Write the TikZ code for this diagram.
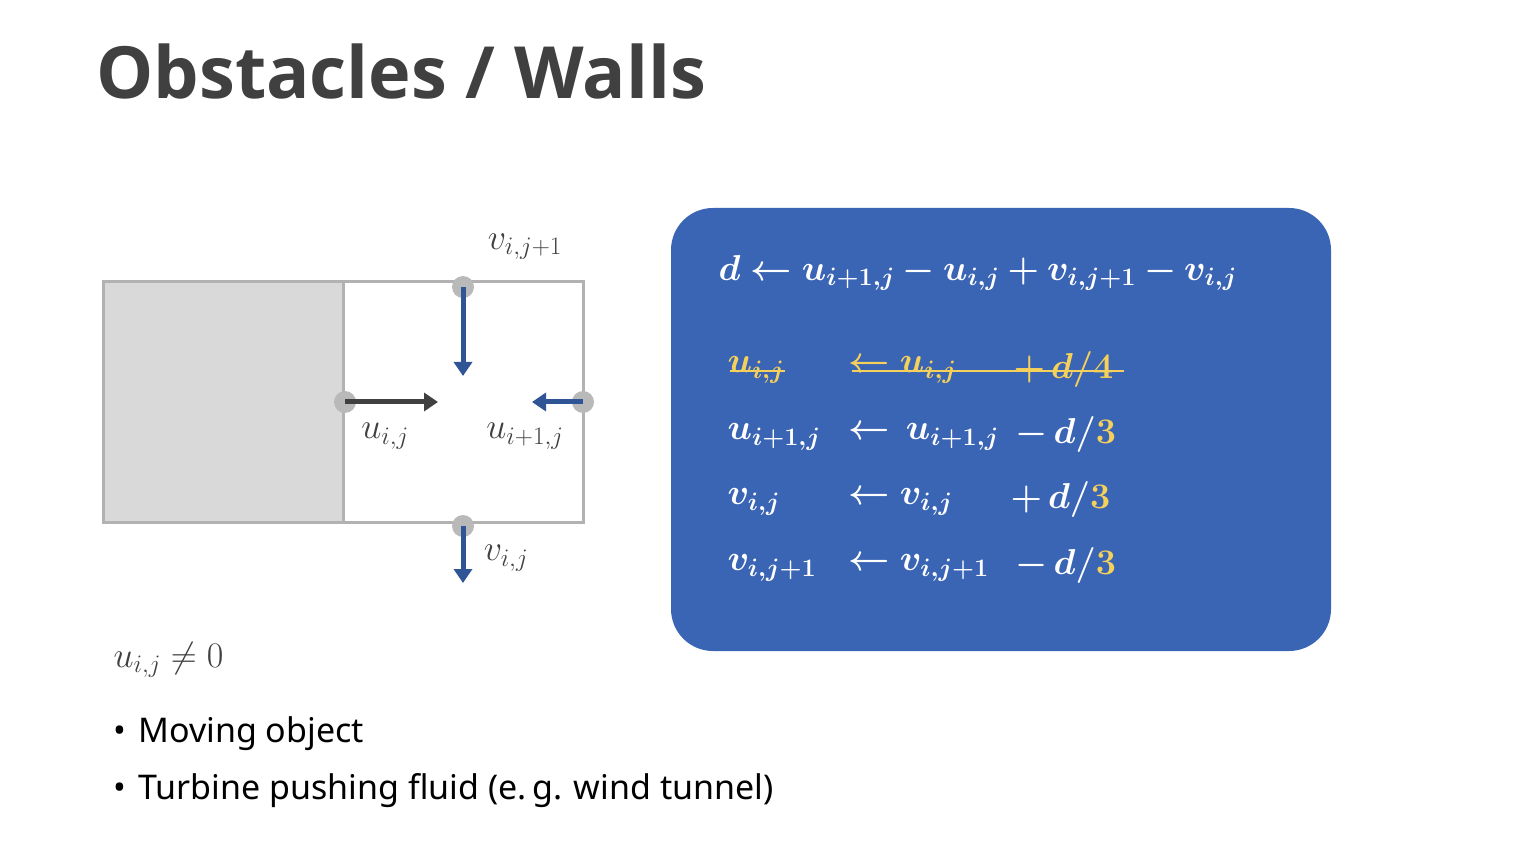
\RequirePackage{fix-cm}
\documentclass[tikz,border=0pt]{standalone}
\usepackage{fontspec}
\usepackage{amsmath,bm}
\usetikzlibrary{arrows.meta}
\setmainfont{Noto Sans}
\newfontfamily\titlefont{Open Sans}
\definecolor{bbox}{HTML}{3A64B4}
\definecolor{arrblue}{HTML}{2F5597}
\definecolor{ylw}{HTML}{F5D05A}
\definecolor{dgray}{HTML}{404040}
\begin{document}
\begin{tikzpicture}[x=1pt,y=-1pt,
  dot/.style={circle,fill=gray!55,inner sep=0pt,minimum size=22pt},
  arr/.style={line width=5pt,-{Triangle[length=14pt,width=18pt]}},
  lab/.style={font=\fontsize{36}{40}\selectfont,text=dgray},
  fw/.style={font=\fontsize{36}{40}\selectfont,text=white,anchor=west},
  fy/.style={font=\fontsize{36}{40}\selectfont,text=ylw,anchor=west}]
\useasboundingbox (0,0) rectangle (1519,850);
\node[anchor=west,font=\fontsize{72}{80}\selectfont\titlefont\bfseries,text=dgray] (title) at (93,72) {Obstacles / Walls};
\fill[gray!30,draw=gray!60,line width=3pt] (103,282) rectangle (343,522);
\draw[gray!60,line width=3pt] (343,282) rectangle (583,522);
\node[dot] (top) at (463,287) {};
\node[dot] (left) at (345,402) {};
\node[dot] (right) at (583,402) {};
\node[dot] (bot) at (463,526) {};
\coordinate (topE) at (463,376);
\coordinate (leftE) at (438,402);
\coordinate (rightE) at (532,402);
\coordinate (botE) at (463,583);
\draw[arr,arrblue] (top.center) -- (topE);
\draw[arr,dgray] (left.center) -- (leftE);
\draw[arr,arrblue] (right.center) -- (rightE);
\draw[arr,arrblue] (bot.center) -- (botE);
\node[lab] (l1) at (525,247) {$v_{i,j+1}$};
\node[lab] (l2) at (385,436) {$u_{i,j}$};
\node[lab] (l3) at (525,436) {$u_{i+1,j}$};
\node[lab] (l4) at (506,558) {$v_{i,j}$};
\node[lab,anchor=west] (ne) at (110,660) {$u_{i,j}\neq 0$};
\node[anchor=west,font=\fontsize{34}{40}\selectfont,text=black] (b1) at (110,734) {•\hspace{12pt}Moving object};
\node[anchor=west,font=\fontsize{34}{40}\selectfont,text=black] (b2) at (110,791) {•\hspace{12pt}Turbine pushing fluid (e.\,g. wind tunnel)};
\fill[bbox,rounded corners=42pt] (671,208) rectangle (1331,651);
\node[fw] (d) at (715,273) {$\bm{d\leftarrow u_{i+1,j}-u_{i,j}+v_{i,j+1}-v_{i,j}}$};
\node[fy] (a1) at (724,370) {$\bm{u_{i,j}}$};
\node[fy] (a2) at (845,370) {$\bm{\leftarrow u_{i,j}}$};
\node[fy] (a3) at (1010,370) {$\bm{+\,d/4}$};
\draw[ylw,line width=2.5pt] (730,371) -- (785,371);
\draw[ylw,line width=2.5pt] (852,371) -- (1124,371);
\node[fw] (b1a) at (724,437) {$\bm{u_{i+1,j}}$};
\node[fw] (b1b) at (845,437) {$\bm{\leftarrow\, u_{i+1,j}}$};
\node[fw] (b1c) at (1012,434) {$\bm{-\,d/}$\textcolor{ylw}{$\bm{3}$}};
\node[fw] (c1a) at (724,502) {$\bm{v_{i,j}}$};
\node[fw] (c1b) at (845,502) {$\bm{\leftarrow v_{i,j}}$};
\node[fw] (c1c) at (1007,499) {$\bm{+\,d/}$\textcolor{ylw}{$\bm{3}$}};
\node[fw] (e1a) at (724,568) {$\bm{v_{i,j+1}}$};
\node[fw] (e1b) at (845,568) {$\bm{\leftarrow v_{i,j+1}}$};
\node[fw] (e1c) at (1012,565) {$\bm{-\,d/}$\textcolor{ylw}{$\bm{3}$}};
\end{tikzpicture}
\end{document}
